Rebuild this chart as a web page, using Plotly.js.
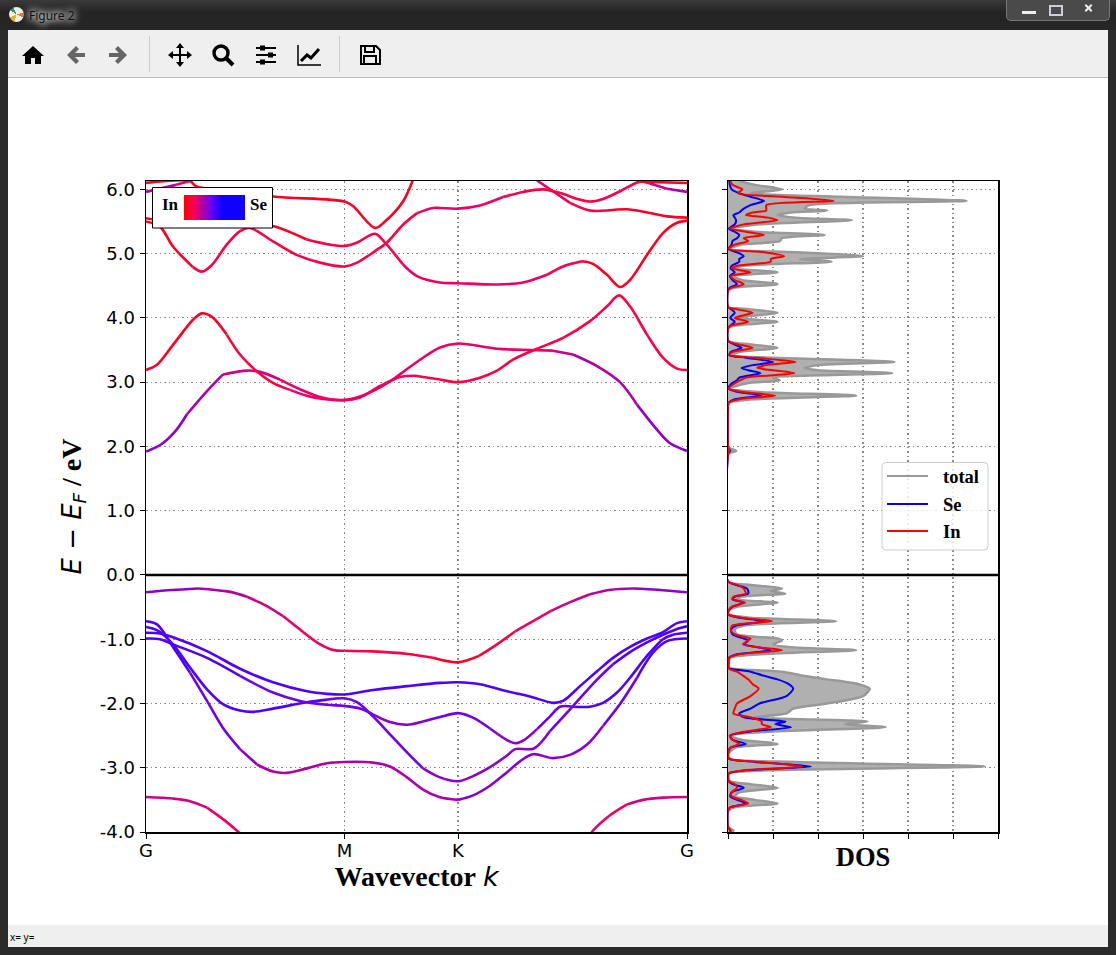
<!DOCTYPE html>
<html><head><meta charset="utf-8">
<script src="https://cdn.plot.ly/plotly-3.0.1.min.js"></script>
<style>
html,body{margin:0;padding:0;width:1116px;height:955px;overflow:hidden;background:#2b2b2b;font-family:"Noto Sans",sans-serif}
#titlebar{position:absolute;left:0;top:0;width:1116px;height:30px;background:linear-gradient(#3a3a3a,#242424 40%,#262626)}
#title{position:absolute;left:29px;top:7px;font-size:12px;color:#111;text-shadow:0 0 6px #fff,0 0 8px #ddd,0 0 10px #bbb}
#logo{position:absolute;left:9px;top:7px;width:15px;height:15px;border-radius:50%;background:conic-gradient(#eee 0 20%,#e8792b 20% 32%,#eee 32% 55%,#e8b02b 55% 68%,#eee 68% 85%,#3a9a4a 85% 93%,#eee 93%)}
#btns{position:absolute;left:1006px;top:0;width:102px;height:20px;border:1px solid #777;border-top:none;border-radius:0 0 5px 5px;background:#4a4a4a}
#btns i{position:absolute;background:#eee}
#tool{position:absolute;left:8px;top:30px;width:1100px;height:47px;background:#efefef;border-bottom:1px solid #bbb}
#canvas{position:absolute;left:8px;top:78px;width:1100px;height:847px;background:#fff}
#status{position:absolute;left:8px;top:925px;width:1100px;height:22px;background:#efefef;font-size:10px;color:#000;line-height:24px;text-indent:2px}
#chart{position:absolute;left:0;top:0;width:1116px;height:955px}
.sep{position:absolute;top:6px;width:1px;height:36px;background:#ccc}
svg.ic{position:absolute;top:13px;width:24px;height:24px}
</style></head><body>
<div id="titlebar"><div id="logo"></div><div id="title">Figure 2</div>
<div id="btns"><i style="left:15px;top:11px;width:14px;height:3px"></i><i style="left:42px;top:5px;width:10px;height:7px;background:none;border:2px solid #ccd"></i><i style="left:77px;top:7px;width:9px;height:2px;transform:rotate(45deg)"></i><i style="left:77px;top:7px;width:9px;height:2px;transform:rotate(-45deg)"></i></div></div>
<div id="tool">
<svg class="ic" style="left:13px" viewBox="0 0 24 24"><path d="M12 3 1 13h3v8h6v-6h4v6h6v-8h3z" fill="#000"/></svg>
<svg class="ic" style="left:56px" viewBox="0 0 24 24"><path d="M3 12 12 3l3 3-4 4h10v4H11l4 4-3 3z" fill="#666"/></svg>
<svg class="ic" style="left:98px" viewBox="0 0 24 24"><path d="M21 12 12 3 9 6l4 4H3v4h10l-4 4 3 3z" fill="#666"/></svg>
<div class="sep" style="left:141px"></div>
<svg class="ic" style="left:160px" viewBox="0 0 24 24"><path d="M12 0l4 5h-3v6h6V8l5 4-5 4v-3h-6v6h3l-4 5-4-5h3v-6H5v3l-5-4 5-4v3h6V5H8z" fill="#000"/></svg>
<svg class="ic" style="left:203px" viewBox="0 0 24 24"><circle cx="10" cy="10" r="7" fill="none" stroke="#000" stroke-width="3.4"/><path d="M15 15l7 7" stroke="#000" stroke-width="4"/></svg>
<svg class="ic" style="left:246px" viewBox="0 0 24 24"><path d="M2 5h20M2 12h20M2 19h20" stroke="#000" stroke-width="2"/><rect x="6" y="2.500" width="5" height="5"/><rect x="14" y="9.500" width="5" height="5"/><rect x="6" y="16.500" width="5" height="5"/></svg>
<svg class="ic" style="left:289px" viewBox="0 0 24 24"><path d="M1 2v20h23" fill="none" stroke="#000" stroke-width="1.500"/><path d="M4 18l6-6 4 3 8-9" fill="none" stroke="#000" stroke-width="3"/></svg>
<div class="sep" style="left:331px"></div>
<svg class="ic" style="left:350px" viewBox="0 0 24 24"><path d="M3 3h15l4 4v14H3z" fill="none" stroke="#000" stroke-width="2"/><path d="M7 3v6h9V3M6 21v-8h12v8" fill="none" stroke="#000" stroke-width="2"/></svg>
</div>
<div id="canvas"></div>
<div id="status">x= y=</div>
<div id="chart"></div>
<script>
// ---- Band structure: k path length (arbitrary), energy (eV), Se weight ----
const kTickVals=[0,198.5,312,541];
const kTickText=['G','M','K','G'];
const eTickVals=[6,5,4,3,2,1,0,-1,-2,-3,-4];
const eTickText=['6.0','5.0','4.0','3.0','2.0','1.0','0.0','-1.0','-2.0','-3.0','-4.0'];
const dosTickVals=[0,1,2,3,4,5,6];
const legendNames=['total','Se','In'];
const legendColors=['#999999','#0000ff','#ff0000'];

const kA=[0,15,30,41,61,77,101,114,134,154,174,198.5,214,234,254,269,294,312,334,351,367,391,417,444,461,473,484,501,517,531,541];
const eA=[1.92,2.03,2.25,2.5,2.86,3.12,3.18,3.16,3.04,2.89,2.77,2.72,2.76,2.94,3.08,3.1,3.04,3,3.07,3.18,3.35,3.52,3.69,3.95,4.18,4.35,4.18,3.74,3.38,3.21,3.19];
const wA=[.6,.6,.58,.55,.48,.45,.42,.38,.32,.28,.25,.25,.25,.25,.25,.25,.22,.2,.2,.2,.2,.2,.18,.15,.15,.15,.15,.15,.15,.15,.15];

const kB=[0,11,27,47,55.7,65.7,80.7,94,110.7,127,144,160.7,177,198.5,210.7,227,244,260.7,277,294,312,351,384,407,427,451,474,491,511,524,541];
const eB=[3.19,3.27,3.58,3.97,4.07,4.02,3.74,3.43,3.17,2.99,2.88,2.79,2.74,2.72,2.76,2.86,3.01,3.2,3.38,3.54,3.6,3.52,3.5,3.49,3.43,3.25,3,2.65,2.26,2.05,1.93];
const wB=[.15,.12,.1,.1,.1,.12,.15,.18,.2,.22,.25,.25,.25,.25,.25,.25,.25,.25,.25,.25,.25,.25,.3,.38,.42,.48,.52,.55,.58,.6,.6];

const kD=[0,14,27,47,55.7,65.7,80.7,94,104,127,150.7,174,198.5,211,229,240.7,257,271,287,294,312,334,357,377,397,417,431,444,457,474,494,504,521,541];
const eD=[5.5,5.42,5.11,4.79,4.72,4.82,5.14,5.35,5.4,5.19,4.98,4.86,4.8,4.86,5.04,5.17,5.45,5.63,5.71,5.71,5.7,5.75,5.88,5.96,6,5.93,5.85,5.81,5.85,5.97,6.12,6.09,6.01,5.96];
const wD=[.12,.12,.12,.15,.15,.18,.25,.22,.15,.15,.15,.15,.15,.15,.15,.15,.18,.25,.25,.25,.25,.25,.25,.22,.22,.2,.15,.15,.15,.15,.15,.3,.5,.58];

const kE=[0,44,50,127,198.5,207,229,239,257,267];
const eE=[6.1,6.13,6.05,5.89,5.81,5.74,5.4,5.5,5.81,6.15];
const wE=[.1,.1,.1,.1,.1,.12,.12,.1,.1,.1];

const kP=[0,30,44];
const eP=[5.96,6.07,6.13];
const wP=[.6,.4,.2];

const kF=[0,15,60,100,127,160.7,184,198.5,210.7,229,239,257,271,294,312,351,377,401,417,436,447,461,474,484,501,517,531,541];
const eF=[5.55,5.52,5.5,5.47,5.43,5.22,5.14,5.12,5.17,5.31,5.17,4.83,4.65,4.55,4.54,4.52,4.55,4.67,4.8,4.88,4.84,4.67,4.48,4.59,4.98,5.32,5.48,5.51];
const wF=[.1,.1,.1,.1,.12,.15,.15,.15,.15,.15,.18,.22,.28,.3,.3,.3,.28,.22,.18,.12,.12,.1,.08,.08,.08,.08,.08,.08];

const kG=[391,407,424,444,461,481,501,521,541];
const eG=[6.14,5.97,5.79,5.67,5.67,5.69,5.64,5.58,5.56];
const wG=[.3,.28,.25,.18,.12,.1,.08,.08,.08];

const kH=[494,541];
const eH=[6.12,6.1];
const wH=[.1,.08];

const kT=[0,26,52,83,101,119,137,154,172,188,198.5,226,262,287,312,333,351,369,387,405,423,444,465,487,512,541];
const eT=[-.27,-.235,-.21,-.26,-.34,-.47,-.64,-.85,-1.06,-1.17,-1.18,-1.19,-1.23,-1.29,-1.36,-1.26,-1.08,-.88,-.72,-.56,-.43,-.3,-.23,-.21,-.23,-.27];
const wT=[.55,.55,.55,.5,.45,.4,.35,.3,.28,.25,.25,.22,.18,.15,.12,.15,.2,.25,.3,.35,.4,.45,.5,.55,.55,.58];

const kVa=[0,14,27,61,94,127,161,181,198.5,227,261,294,312,334,361,384,407,417,434,451,467,484,501,517,531,541];
const eVa=[-.9,-.91,-.97,-1.185,-1.46,-1.67,-1.81,-1.85,-1.86,-1.79,-1.73,-1.68,-1.67,-1.7,-1.81,-1.89,-1.99,-1.96,-1.73,-1.5,-1.29,-1.12,-.99,-.89,-.75,-.72];
const wVa=[.78,.78,.78,.78,.78,.78,.78,.78,.78,.8,.8,.8,.8,.8,.8,.78,.78,.78,.78,.78,.78,.78,.78,.78,.78,.78];

const kVb=[0,14,27,61,94,127,154,181,198.5,214,227,244,261,277,294,312,327,344,361,369,378,391,404,414,427,444,457,471,484,501,517,527,541];
const eVb=[-.99,-1,-1.08,-1.29,-1.57,-1.83,-1.96,-2.02,-2.04,-2.08,-2.17,-2.29,-2.33,-2.28,-2.21,-2.15,-2.22,-2.39,-2.57,-2.62,-2.57,-2.4,-2.2,-2.05,-2.05,-2.05,-1.99,-1.83,-1.6,-1.26,-1,-.93,-.9];
const wVb=[.78,.78,.78,.75,.75,.72,.7,.68,.68,.66,.65,.63,.63,.65,.67,.68,.67,.65,.62,.62,.63,.66,.7,.74,.75,.75,.75,.76,.76,.78,.78,.78,.78];

const kVc=[0,11,27,44,61,77,94,107,127,161,181,198.5,211,227,244,261,277,294,312,327,344,361,369,388,404,427,451,467,484,501,517,531,541];
const eVc=[-.81,-.86,-1.08,-1.44,-1.78,-2.01,-2.11,-2.13,-2.08,-1.98,-1.94,-1.92,-1.98,-2.2,-2.48,-2.76,-3.01,-3.15,-3.21,-3.13,-2.99,-2.81,-2.71,-2.7,-2.43,-2.04,-1.63,-1.39,-1.2,-1.05,-.93,-.84,-.8];
const wVc=[.78,.78,.78,.76,.75,.75,.75,.75,.76,.76,.75,.74,.72,.7,.68,.66,.64,.62,.62,.62,.6,.58,.55,.55,.62,.68,.72,.74,.76,.78,.78,.78,.78];

const kVd=[0,11,27,44,61,77,94,111,127,141,161,181,198.5,227,244,261,277,294,312,327,344,361,374,387,407,424,441,457,474,491,507,521,541];
const eVd=[-.72,-.77,-1.12,-1.52,-1.96,-2.38,-2.71,-2.95,-3.06,-3.08,-3.01,-2.93,-2.91,-2.92,-2.98,-3.15,-3.34,-3.46,-3.5,-3.43,-3.28,-3.07,-2.9,-2.79,-2.85,-2.8,-2.64,-2.35,-2.01,-1.6,-1.21,-1.03,-.99];
const wVd=[.78,.78,.76,.74,.72,.68,.62,.56,.52,.5,.5,.48,.45,.45,.47,.5,.52,.53,.55,.55,.55,.56,.56,.56,.56,.58,.62,.66,.7,.74,.76,.78,.78];

const kVe=[0,27,44,61,77,91,96];
const eVe=[-3.455,-3.48,-3.52,-3.62,-3.8,-3.98,-4.05];
const wVe=[.42,.42,.38,.33,.28,.25,.25];

const kVf=[444,447,464,481,497,517,541];
const eVf=[-4.05,-3.98,-3.74,-3.57,-3.5,-3.465,-3.455];
const wVf=[.25,.25,.28,.33,.38,.42,.42];

// ---- Density of states ----
const dosE=[6.13,6.07,6,5.94,5.885,5.82,5.755,5.7,5.67,5.64,
5.6,5.56,5.52,5.455,5.39,5.34,5.29,5.24,5.195,5.14,
5.07,5.02,4.96,4.915,4.875,4.81,4.77,4.71,4.65,4.59,
4.525,4.47,4.43,4.17,4.145,4.08,4,3.94,3.875,3.835,
3.645,3.6,3.535,3.47,3.42,3.38,3.315,3.265,3.22,3.185,
3.14,3.07,3.03,2.98,2.9,2.85,2.79,2.735,2.68,2.64,
2,1.97,1.93,1.9,1.87,-.1,-.15,-.21,-.25,-.29,
-.34,-.38,-.43,-.495,-.56,-.615,-.665,-.72,-.785,-.85,
-.925,-.99,-1.02,-1.08,-1.13,-1.17,-1.235,-1.29,-1.37,-1.445,
-1.47,-1.505,-1.56,-1.625,-1.7,-1.77,-1.885,-2,-2.08,-2.155,
-2.215,-2.28,-2.32,-2.37,-2.435,-2.5,-2.565,-2.63,-2.69,-2.795,
-2.86,-2.91,-2.98,-3.04,-3.09,-3.205,-3.255,-3.31,-3.385,-3.445,
-3.5,-3.555,-3.615,-3.67,-3.92,-3.975,-4];
const dosTotal=[.25,.6,1.2,.5,2.5,5.3,1.8,1.7,2.2,1.4,
1.1,1.5,2.75,.7,.05,.6,2.15,1.2,1.15,.3,
.02,1.5,3,1.6,2.3,.35,.15,1.1,.1,.3,
1.1,.15,0,0,.3,1.1,.2,1.1,.1,0,
0,.3,1.1,.25,.05,1,3.7,2,1.7,2,
3.65,1,1.15,.4,.03,.6,2.85,.6,.02,0,
0,.04,.18,.04,0,0,.4,1.2,.95,1.27,
.3,.2,1.1,.2,.01,.02,.5,2.4,.4,.15,
.2,1.1,1.2,1,1.5,2.85,.7,.05,.02,.03,
.3,1.2,1.6,2.2,2.9,3.15,3,2.2,1.45,1.3,
.6,3.1,2.6,3.5,1,.05,.3,1.1,.15,0,
.05,1.5,5.7,.9,.03,.03,.5,1.1,.25,.15,
.6,1.1,.15,0,0,.12,.1];
const dosSe=[.03,.04,.08,.25,.5,.8,.5,.35,.3,.25,
.12,.15,.18,.15,.02,.15,.25,.2,.1,.08,
.01,.2,.35,.25,.25,.08,.06,.15,.04,.1,
.2,.04,0,0,.05,.15,.05,.15,.04,0,
0,.1,.3,.06,.03,.4,1,.55,.3,.45,
.72,.25,.2,.08,.01,.2,.75,.15,.01,0,
0,.01,.05,.01,0,0,.15,.42,.45,.45,
.15,.1,.35,.1,.01,.01,.25,.8,.2,.07,
.1,.35,.45,.35,.7,.95,.2,.02,.01,.01,
.15,.5,.75,1.1,1.35,1.45,1.3,.7,.5,.25,
.35,1.28,1.05,1.4,.5,.05,.1,.4,.05,0,
.02,.6,1.85,.4,.01,.01,.1,.35,.08,.05,
.2,.4,.05,0,0,.05,.05];
const dosIn=[.05,.1,.32,.22,1.2,2.35,.85,.85,.85,.55,
.4,.9,1.1,.35,.04,.4,.8,.35,.45,.15,
.01,.8,1.25,.95,.95,.2,.08,.5,.06,.15,
.35,.08,0,0,.1,.55,.15,.45,.05,0,
0,.15,.55,.1,.03,.6,1.5,.85,.65,1,
1.48,.4,.28,.15,.01,.3,1.05,.25,.01,0,
0,.01,.03,.01,0,0,.2,.35,.38,.4,
.12,.1,.38,.08,.01,.01,.3,.98,.1,.06,
.15,.5,.45,.33,.7,1.2,.25,.02,.01,.01,
.05,.2,.32,.45,.55,.68,.5,.2,.15,.12,
.5,.75,.75,.95,.4,.04,.1,.25,.05,0,
.02,.7,1.65,.35,.01,.01,.15,.2,.08,.08,
.3,.45,.05,0,0,.06,.05];

const bands=[[kA,eA,wA],[kB,eB,wB],[kD,eD,wD],[kE,eE,wE],[kP,eP,wP],[kF,eF,wF],[kG,eG,wG],[kH,eH,wH],
 [kT,eT,wT],[kVa,eVa,wVa],[kVb,eVb,wVb],[kVc,eVc,wVc],[kVd,eVd,wVd],[kVe,eVe,wVe],[kVf,eVf,wVf]];

function weightColor(w){
  const r=Math.min(255,Math.round(16+320*(1-w)));
  const b=Math.min(255,Math.round(340*w));
  return 'rgb('+r+',0,'+b+')';
}
// group band runs by colour: one trace per colour, smoothed by the library's spline
const colourKey=v=>(Math.round(v*10)/10).toFixed(1);
const buckets={};
bands.forEach(([k,e,w])=>{
  let i=0;
  while(i<k.length-1){
    const key=colourKey((w[i]+w[i+1])/2);
    const b=buckets[key]||(buckets[key]={x:[],y:[]});
    b.x.push(k[i]); b.y.push(e[i]);
    while(i<k.length-1 && colourKey((w[i]+w[i+1])/2)===key){
      b.x.push(k[i+1]); b.y.push(e[i+1]); i++;
    }
    b.x.push(null); b.y.push(null);
  }
});
const traces=Object.keys(buckets).map(key=>({
  type:'scatter',mode:'lines',x:buckets[key].x,y:buckets[key].y,xaxis:'x',yaxis:'y',
  line:{color:weightColor(+key),width:2.6,shape:'spline',smoothing:0.9,simplify:false},showlegend:false,hoverinfo:'skip'
}));
const dosLine={shape:'spline',smoothing:0.7,simplify:false};
traces.push({type:'scatter',mode:'lines',x:dosTotal,y:dosE,xaxis:'x2',yaxis:'y2',fill:'tozerox',fillcolor:'#b0b0b0',line:Object.assign({width:0,color:'#b0b0b0'},dosLine),showlegend:false,hoverinfo:'skip'});
traces.push({type:'scatter',mode:'lines',name:legendNames[0],x:dosTotal,y:dosE,xaxis:'x2',yaxis:'y2',showlegend:false,line:Object.assign({color:legendColors[0],width:2.5},dosLine)});
traces.push({type:'scatter',mode:'lines',name:legendNames[1],x:dosSe,y:dosE,xaxis:'x2',yaxis:'y2',showlegend:false,line:Object.assign({color:legendColors[1],width:2},dosLine)});
traces.push({type:'scatter',mode:'lines',name:legendNames[2],x:dosIn,y:dosE,xaxis:'x2',yaxis:'y2',showlegend:false,line:Object.assign({color:legendColors[2],width:2},dosLine)});

const W=1116,H=955;
const px=v=>v/W, py=v=>1-v/H;
const GRID={showgrid:true,gridcolor:'#8a8a8a',gridwidth:1.2,griddash:'1.5px,3px',zeroline:false,showline:true,linecolor:'#000',linewidth:1.5,mirror:true,ticks:'outside',ticklen:5,tickwidth:1,tickcolor:'#000'};
const TICKF={family:'DejaVu Sans',size:18,color:'#000'};
const TITLEF={family:'Liberation Serif',size:28,color:'#000'};

const shapes=[
 {type:'line',xref:'x',yref:'y',x0:0,x1:541,y0:0,y1:0,line:{color:'#000',width:2.6},layer:'above'},
 {type:'line',xref:'x2',yref:'y2',x0:0,x1:6,y0:0,y1:0,line:{color:'#000',width:2.6},layer:'above'},
 {type:'rect',xref:'paper',yref:'paper',x0:px(152.5),x1:px(272.5),y0:py(228),y1:py(187.5),fillcolor:'#fff',line:{color:'#000',width:1},layer:'above'}
];
// In - Se colour strip
const stripW=61;
for(let i=0;i<stripW;i++){
  const w=Math.min(1,(i+0.5)/stripW/0.62);
  shapes.push({type:'rect',xref:'paper',yref:'paper',x0:px(184+i),x1:px(185+i),y0:py(220),y1:py(195),layer:'above',
    fillcolor:weightColor(w),line:{width:0}});
}
// DOS legend frame (rounded) and keys
const lx0=882,lx1=988,ly0=462.5,ly1=550,lr=4;
shapes.push({type:'path',xref:'paper',yref:'paper',layer:'above',fillcolor:'rgba(255,255,255,0.8)',line:{color:'#cccccc',width:1},
  path:'M'+px(lx0+lr)+','+py(ly0)+' L'+px(lx1-lr)+','+py(ly0)+' Q'+px(lx1)+','+py(ly0)+' '+px(lx1)+','+py(ly0+lr)+
       ' L'+px(lx1)+','+py(ly1-lr)+' Q'+px(lx1)+','+py(ly1)+' '+px(lx1-lr)+','+py(ly1)+
       ' L'+px(lx0+lr)+','+py(ly1)+' Q'+px(lx0)+','+py(ly1)+' '+px(lx0)+','+py(ly1-lr)+
       ' L'+px(lx0)+','+py(ly0+lr)+' Q'+px(lx0)+','+py(ly0)+' '+px(lx0+lr)+','+py(ly0)+' Z'});
const legendRows=[476,504,531];
const annotations=[
  {xref:'paper',yref:'paper',x:px(170),y:py(205),xanchor:'center',yanchor:'middle',text:'<b>In</b>',showarrow:false,font:{family:'Liberation Serif',size:17,color:'#000'}},
  {xref:'paper',yref:'paper',x:px(258.5),y:py(205),xanchor:'center',yanchor:'middle',text:'<b>Se</b>',showarrow:false,font:{family:'Liberation Serif',size:17,color:'#000'}}
];
legendNames.forEach((n,i)=>{
  shapes.push({type:'line',xref:'paper',yref:'paper',x0:px(887),x1:px(928),y0:py(legendRows[i]),y1:py(legendRows[i]),layer:'above',line:{color:legendColors[i],width:2}});
  annotations.push({xref:'paper',yref:'paper',x:px(943),y:py(legendRows[i]+1),xanchor:'left',yanchor:'middle',text:'<b>'+n+'</b>',showarrow:false,xshift:-2,font:{family:'Liberation Serif',size:18.5,color:'#000'}});
});

const layout={
 width:W,height:H,margin:{l:0,r:0,t:0,b:0},paper_bgcolor:'rgba(0,0,0,0)',plot_bgcolor:'rgba(0,0,0,0)',
 showlegend:false,
 xaxis:Object.assign({},GRID,{domain:[px(146),px(687)],range:[0,541],tickmode:'array',tickvals:kTickVals,ticktext:kTickText,tickfont:TICKF,ticklabelstandoff:-3,
   title:{text:'<b>Wavevector</b> <i><span style="font-family:DejaVu Sans;font-size:27px">k</span></i>',font:TITLEF,standoff:5},anchor:'y'}),
 yaxis:Object.assign({},GRID,{domain:[py(832),py(181)],range:[-4,6.13],tickmode:'array',tickvals:eTickVals,ticktext:eTickText,tickfont:TICKF,ticklabelstandoff:1,
   title:{text:'<i><span style="font-family:DejaVu Sans;font-size:26px">E − E<sub>F</sub></span></i> <b>/ eV</b>',font:TITLEF,standoff:10},anchor:'x'}),
 xaxis2:Object.assign({},GRID,{domain:[px(728),px(998)],range:[0,6],tickmode:'array',tickvals:dosTickVals,showticklabels:false,
   title:{text:'<b>DOS</b>',font:Object.assign({},TITLEF,{size:26.5}),standoff:10},anchor:'y2'}),
 yaxis2:Object.assign({},GRID,{domain:[py(832),py(181)],range:[-4,6.13],tickmode:'array',tickvals:eTickVals,showticklabels:false,anchor:'x2'}),
 shapes:shapes,
 annotations:annotations
};
Plotly.newPlot('chart',traces,layout,{displayModeBar:false,staticPlot:true});
</script>
</body></html>
